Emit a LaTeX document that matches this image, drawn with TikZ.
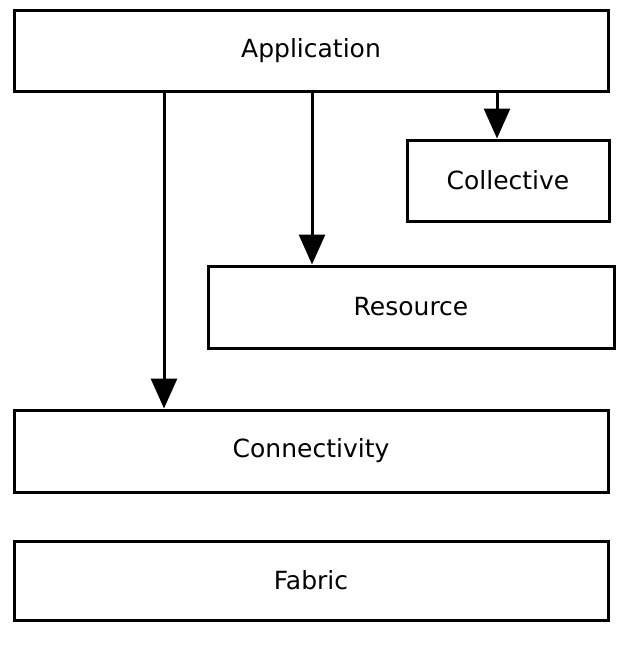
\documentclass[tikz,border=0pt]{standalone}
\usepackage{fontspec}
\setmainfont{DejaVu Sans}
\usetikzlibrary{positioning}
\usetikzlibrary{arrows.meta}

\begin{document}
\begin{tikzpicture}[x=1pt,y=-1pt,
  layer/.style={draw, line width=3pt, inner sep=0pt, font=\fontsize{25}{30}\selectfont},
  call/.style={line width=3pt, -{Triangle[width=26pt,length=30pt]}}]
\useasboundingbox (0,0) rectangle (629,645);
\node[layer, minimum width=594pt, minimum height=81pt] (app) at (311,50.5) {Application};
\node[layer, minimum width=202pt, minimum height=81pt] (coll) at (508,180.5) {Collective};
\node[layer, minimum width=406pt, minimum height=82pt] (res) at (411,307) {Resource};
\node[layer, minimum width=594pt, minimum height=82pt] (conn) at (311,451) {Connectivity};
\node[layer, minimum width=594pt, minimum height=79pt] (fab) at (311,580.5) {Fabric};

\draw[call] (app.south -| 164,0) -- (conn.north -| 164,0);
\draw[call] (app.south -| 312,0) -- (res.north -| 312,0);
\draw[call] (app.south -| 497,0) -- (coll.north -| 497,0);
\end{tikzpicture}
\end{document}
